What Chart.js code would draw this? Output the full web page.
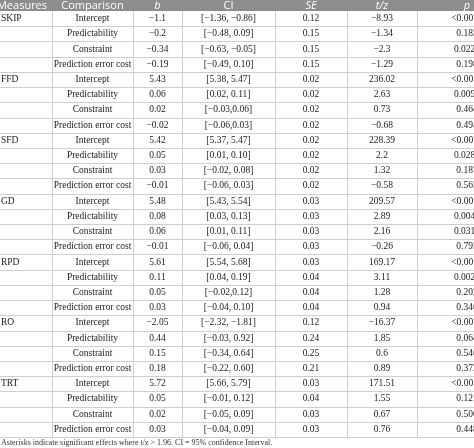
<!DOCTYPE html>
<html>
<head>
<meta charset="utf-8">
<script src="https://cdn.jsdelivr.net/npm/chart.js@4.4.0/dist/chart.umd.min.js"></script>
<style>
  html, body { margin: 0; padding: 0; background: #fff; overflow: hidden; }
  #wrap { width: 474px; height: 448px; }
</style>
</head>
<body>
<div id="wrap"><canvas id="tableChart"></canvas></div>
<script>
const headers = ['Measures', 'Comparison', 'b', 'CI', 'SE', 't/z', 'p'];
const measures = ['SKIP', 'FFD', 'SFD', 'GD', 'RPD', 'RO', 'TRT'];
const comparisons = ['Intercept', 'Predictability', 'Constraint', 'Prediction error cost'];
const bValues = [
    ['\u22121.1', '\u22120.2', '\u22120.34', '\u22120.19'],
    ['5.43', '0.06', '0.02', '\u22120.02'],
    ['5.42', '0.05', '0.03', '\u22120.01'],
    ['5.48', '0.08', '0.06', '\u22120.01'],
    ['5.61', '0.11', '0.05', '0.03'],
    ['\u22122.05', '0.44', '0.15', '0.18'],
    ['5.72', '0.05', '0.02', '0.03']
];
const ciValues = [
    ['[\u22121.36, \u22120.86]', '[\u22120.48, 0.09]', '[\u22120.63, \u22120.05]', '[\u22120.49, 0.10]'],
    ['[5.38, 5.47]', '[0.02, 0.11]', '[\u22120.03,0.06]', '[\u22120.06,0.03]'],
    ['[5.37, 5.47]', '[0.01, 0.10]', '[\u22120.02, 0.08]', '[\u22120.06, 0.03]'],
    ['[5.43, 5.54]', '[0.03, 0.13]', '[0.01, 0.11]', '[\u22120.06, 0.04]'],
    ['[5.54, 5.68]', '[0.04, 0.19]', '[\u22120.02,0.12]', '[\u22120.04, 0.10]'],
    ['[\u22122.32, \u22121.81]', '[\u22120.03, 0.92]', '[\u22120.34, 0.64]', '[\u22120.22, 0.60]'],
    ['[5.66, 5.79]', '[\u22120.01, 0.12]', '[\u22120.05, 0.09]', '[\u22120.04, 0.09]']
];
const seValues = [
    ['0.12', '0.15', '0.15', '0.15'],
    ['0.02', '0.02', '0.02', '0.02'],
    ['0.02', '0.02', '0.02', '0.02'],
    ['0.03', '0.03', '0.03', '0.03'],
    ['0.03', '0.04', '0.04', '0.04'],
    ['0.12', '0.24', '0.25', '0.21'],
    ['0.03', '0.04', '0.03', '0.03']
];
const tzValues = [
    ['\u22128.93', '\u22121.34', '\u22122.3', '\u22121.29'],
    ['236.02', '2.63', '0.73', '\u22120.68'],
    ['228.39', '2.2', '1.32', '\u22120.58'],
    ['209.57', '2.89', '2.16', '\u22120.26'],
    ['169.17', '3.11', '1.28', '0.94'],
    ['\u221216.37', '1.85', '0.6', '0.89'],
    ['171.51', '1.55', '0.67', '0.76']
];
const pValues = [
    ['<0.001*', '0.182', '0.022*', '0.198'],
    ['<0.001*', '0.009*', '0.464', '0.494'],
    ['<0.001*', '0.028*', '0.187', '0.565'],
    ['<0.001*', '0.004*', '0.031*', '0.793'],
    ['<0.001*', '0.002*', '0.202', '0.346'],
    ['<0.001*', '0.064', '0.546', '0.372'],
    ['<0.001*', '0.121', '0.506', '0.448']
];
const footnote = 'Asterisks indicate significant effects where t/z > 1.96. CI = 95% confidence Interval.';

// column edges in x-scale units
const colEdges = [0, 52, 133, 182, 275, 347, 417, 517];

// flatten into rows
const rows = [];
measures.forEach((m, i) => {
    comparisons.forEach((c, j) => {
        rows.push([j === 0 ? m : '', c, bValues[i][j], ciValues[i][j], seValues[i][j], tzValues[i][j], pValues[i][j]]);
    });
});

const tablePlugin = {
    id: 'tablePlugin',
    afterDraw(chart) {
        const ctx = chart.ctx;
        const xs = chart.scales.x, ys = chart.scales.y;
        const X = v => xs.getPixelForValue(v);
        const Y = v => ys.getPixelForValue(v);
        ctx.save();
        // header
        const top = Y(0);
        ctx.fillStyle = '#8d8d8d';
        ctx.fillRect(0, 0, chart.width, top);
        ctx.textBaseline = 'middle';
        headers.forEach((h, k) => {
            const italic = ['b', 'SE', 't/z', 'p'].includes(h);
            ctx.font = (italic ? 'italic ' : '') + '11px "Open Sans", sans-serif';
            ctx.fillStyle = '#ffffff';
            ctx.textAlign = 'center';
            let cx = (X(colEdges[k]) + X(colEdges[k + 1])) / 2;
            if (k === 0) cx = X(colEdges[0]) + 22;
            ctx.fillText(h, cx, top / 2);
        });
        // rows
        rows.forEach((r, i) => {
            const y0 = Y(i), y1 = Y(i + 1);
            const yc = (y0 + y1) / 2;
            ctx.font = '9.5px "Liberation Serif", serif';
            ctx.fillStyle = '#222222';
            r.forEach((t, k) => {
                if (k === 0) {
                    ctx.textAlign = 'left';
                    ctx.fillText(t, X(colEdges[0]) + 1, yc);
                } else {
                    ctx.textAlign = 'center';
                    ctx.fillText(t, (X(colEdges[k]) + X(colEdges[k + 1])) / 2, yc);
                }
            });
            ctx.strokeStyle = '#cfcfcf';
            ctx.lineWidth = 1;
            ctx.beginPath();
            ctx.moveTo(0, Math.round(y1) + 0.5);
            ctx.lineTo(chart.width, Math.round(y1) + 0.5);
            ctx.stroke();
        });
        // vertical lines
        ctx.strokeStyle = '#cfcfcf';
        colEdges.slice(1, -1).forEach(e => {
            ctx.beginPath();
            ctx.moveTo(Math.round(X(e)) + 0.5, top);
            ctx.lineTo(Math.round(X(e)) + 0.5, Y(rows.length));
            ctx.stroke();
        });
        // footnote
        ctx.font = '8px "Liberation Serif", serif';
        ctx.fillStyle = '#333333';
        ctx.textAlign = 'left';
        ctx.fillText(footnote, 1, Y(rows.length) + 6);
        ctx.restore();
    }
};

new Chart(document.getElementById('tableChart').getContext('2d'), {
    type: 'scatter',
    data: {
        datasets: [{
            data: rows.map((r, i) => ({ x: colEdges[0], y: i + 0.5 })),
            pointRadius: 0
        }]
    },
    options: {
        responsive: true,
        maintainAspectRatio: false,
        animation: false,
        layout: { padding: { top: 11, bottom: 11, left: 0, right: 0 } },
        plugins: { legend: { display: false }, tooltip: { enabled: false } },
        scales: {
            x: { type: 'linear', min: 0, max: 474, display: false },
            y: { type: 'linear', min: 0, max: rows.length, reverse: true, display: false }
        }
    },
    plugins: [tablePlugin]
});
</script>
</body>
</html>
